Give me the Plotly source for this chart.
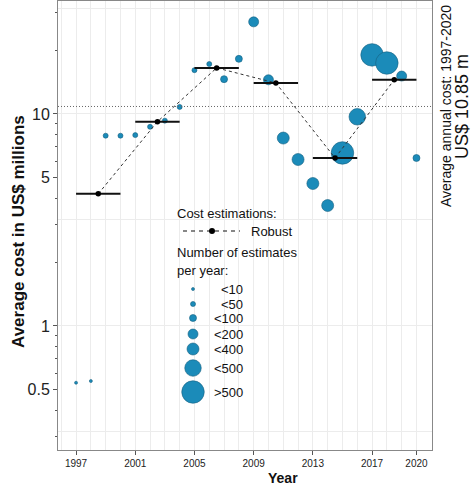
import numpy as np
import plotly.graph_objects as go

# ---------------- data ----------------
years = list(range(1997, 2021))
avg_cost = [0.54, 0.55, 7.9, 7.9, 7.95, 8.7, 9.3, 10.8, 16.1, 17.2, 14.6, 18.2,
            27.2, 14.5, 7.7, 6.1, 4.7, 3.7, 6.55, 9.7, 19.0, 17.4, 15.1, 6.2]
n_class = ["<10", "<10", "<50", "<50", "<50", "<50", "<50", "<50", "<50", "<50",
           "<100", "<100", "<200", "<200", "<400", "<400", "<400", "<400",
           ">500", "<500", ">500", ">500", "<200", "<100"]

robust_mid = [1998.5, 2002.5, 2006.5, 2010.5, 2014.5, 2018.5]
robust_cost = [4.2, 9.2, 16.5, 14.0, 6.2, 14.5]
robust_halfspan = [1.5, 1.5, 1.5, 1.5, 1.5, 1.5]

overall_avg = 10.85

size_classes = ["<10", "<50", "<100", "<200", "<400", "<500", ">500"]
x_ticks = [1997, 2001, 2005, 2009, 2013, 2017, 2020]
y_ticks = [0.5, 1, 5, 10]
y_minor = [0.3, 0.4, 0.6, 0.7, 0.8, 0.9, 2, 3, 4, 6, 7, 8, 9, 20, 30]
y_grid = [10 ** -0.5, 1, 10 ** 0.5, 10, 10 ** 1.5]

# ---------------- style ----------------
class_diam = {"<10": 3, "<50": 5, "<100": 7, "<200": 10, "<400": 12, "<500": 16.5, ">500": 22.5}
FILL = "#1b8bb9"
EDGE = "#15607f"
FONT = "Liberation Sans, Arial, sans-serif"
GRID = "#ececec"

X_RANGE = [1995.78, 2021.05]
Y_RANGE = [-0.585, 1.533]

fig = go.Figure()

# dummy trace on the grid-overlay axis
fig.add_trace(go.Scatter(x=[None], y=[None], yaxis="y2", showlegend=False, hoverinfo="skip"))

# yearly estimates
fig.add_trace(go.Scatter(
    x=years, y=avg_cost, mode="markers",
    marker=dict(size=[class_diam[c] for c in n_class], color=FILL,
                line=dict(color=EDGE, width=0.6), opacity=1),
    showlegend=False, cliponaxis=False))

# overall average dotted line
fig.add_trace(go.Scatter(
    x=X_RANGE, y=[overall_avg, overall_avg], mode="lines",
    line=dict(color="#666", width=1, dash="1px,2px"), showlegend=False))

# robust dashed connector
fig.add_trace(go.Scatter(
    x=robust_mid, y=robust_cost, mode="lines",
    line=dict(color="#333", width=1, dash="3px,3px"), showlegend=False))

# robust points with horizontal spans
fig.add_trace(go.Scatter(
    x=robust_mid, y=robust_cost, mode="markers",
    marker=dict(size=5.5, color="black"),
    error_x=dict(type="data", array=robust_halfspan, symmetric=True,
                 thickness=2, width=0, color="#111"),
    showlegend=False))

# ---------------- custom legend (on a pixel-like overlay axis) ----------------
leg_rows_y = [289, 304, 318, 334, 349, 368, 392]
fig.add_trace(go.Scatter(
    x=[193] * len(size_classes), y=leg_rows_y, xaxis="x2", yaxis="y3",
    mode="markers",
    marker=dict(size=[class_diam[c] for c in size_classes], color=FILL,
                line=dict(color=EDGE, width=0.6), opacity=1),
    showlegend=False, cliponaxis=False))
fig.add_trace(go.Scatter(
    x=[183, 240], y=[231, 231], xaxis="x2", yaxis="y3", mode="lines",
    line=dict(color="#111", width=1.2, dash="4px,4px"), showlegend=False))
fig.add_trace(go.Scatter(
    x=[212], y=[231], xaxis="x2", yaxis="y3", mode="markers",
    marker=dict(size=6, color="black"), showlegend=False))

ann = []
ann.append(dict(x=175, y=213, xref="x2", yref="y3", text="Cost estimations:",
                showarrow=False, xanchor="left", yanchor="middle",
                font=dict(size=13, color="#111", family=FONT)))
ann.append(dict(x=249, y=231, xref="x2", yref="y3", text="Robust",
                showarrow=False, xanchor="left", yanchor="middle",
                font=dict(size=13, color="#111", family=FONT)))
ann.append(dict(x=175, y=252, xref="x2", yref="y3", text="Number of estimates",
                showarrow=False, xanchor="left", yanchor="middle",
                font=dict(size=13, color="#111", family=FONT)))
ann.append(dict(x=175, y=270, xref="x2", yref="y3", text="per year:",
                showarrow=False, xanchor="left", yanchor="middle",
                font=dict(size=13, color="#111", family=FONT)))
for lab, yy in zip(size_classes, leg_rows_y):
    ann.append(dict(x=245, y=yy, xref="x2", yref="y3", text=lab,
                    showarrow=False, xanchor="right", yanchor="middle",
                    font=dict(size=13, color="#111", family=FONT)))

# right-side average texts
ann.append(dict(x=(446 - 58) / 374, y=(450 - 106) / 449, xref="paper", yref="paper",
                text="Average annual cost: 1997-2020", textangle=-90, showarrow=False,
                xanchor="center", yanchor="middle",
                font=dict(size=14, color="#111", family=FONT)))
ann.append(dict(x=(462 - 58) / 374, y=(450 - 107) / 449, xref="paper", yref="paper",
                text="US$ %.2f m" % overall_avg, textangle=-90, showarrow=False,
                xanchor="center", yanchor="middle",
                font=dict(size=18, color="#111", family=FONT)))
# axis titles
ann.append(dict(x=(19 - 58) / 374, y=(450 - 232) / 449, xref="paper", yref="paper",
                text="<b>Average cost in US$ millions</b>", textangle=-90, showarrow=False,
                xanchor="center", yanchor="middle",
                font=dict(size=17, color="#111", family=FONT)))
ann.append(dict(x=(283 - 58) / 374, y=(450 - 478) / 449, xref="paper", yref="paper",
                text="<b>Year</b>", showarrow=False,
                xanchor="center", yanchor="middle",
                font=dict(size=14, color="#111", family=FONT)))

fig.update_layout(
    width=474, height=488,
    margin=dict(l=58, r=42, t=1, b=38),
    paper_bgcolor="white", plot_bgcolor="white",
    font=dict(family=FONT, color="#111"),
    showlegend=False,
    annotations=ann,
    xaxis=dict(range=X_RANGE, tickvals=x_ticks, ticks="outside", ticklen=4,
               tickcolor="#555", tickfont=dict(size=10, color="#222", family=FONT),
               showgrid=True, gridcolor=GRID, gridwidth=1,
               minor=dict(tick0=1997, dtick=1, showgrid=True, gridcolor=GRID, ticks=""),
               showline=True, linecolor="#888", linewidth=1, mirror=True,
               zeroline=False),
    yaxis=dict(type="log", range=Y_RANGE, tickvals=y_ticks,
               ticktext=[str(v) for v in y_ticks],
               ticks="outside", ticklen=4, tickcolor="#555",
               tickfont=dict(size=16, color="#222", family=FONT),
               showgrid=False,
               minor=dict(tickvals=y_minor, ticks="outside", ticklen=2,
                          tickcolor="#555", showgrid=False),
               showline=True, linecolor="#888", linewidth=1, mirror=True,
               zeroline=False),
    yaxis2=dict(type="log", range=Y_RANGE, overlaying="y", tickvals=y_grid,
                showticklabels=False, ticks="", showgrid=True, gridcolor=GRID,
                gridwidth=1, showline=False, zeroline=False),
    xaxis2=dict(range=[58, 432], overlaying="x", visible=False),
    yaxis3=dict(range=[450, 1], overlaying="y", visible=False),
)

fig.write_html("out.html")
